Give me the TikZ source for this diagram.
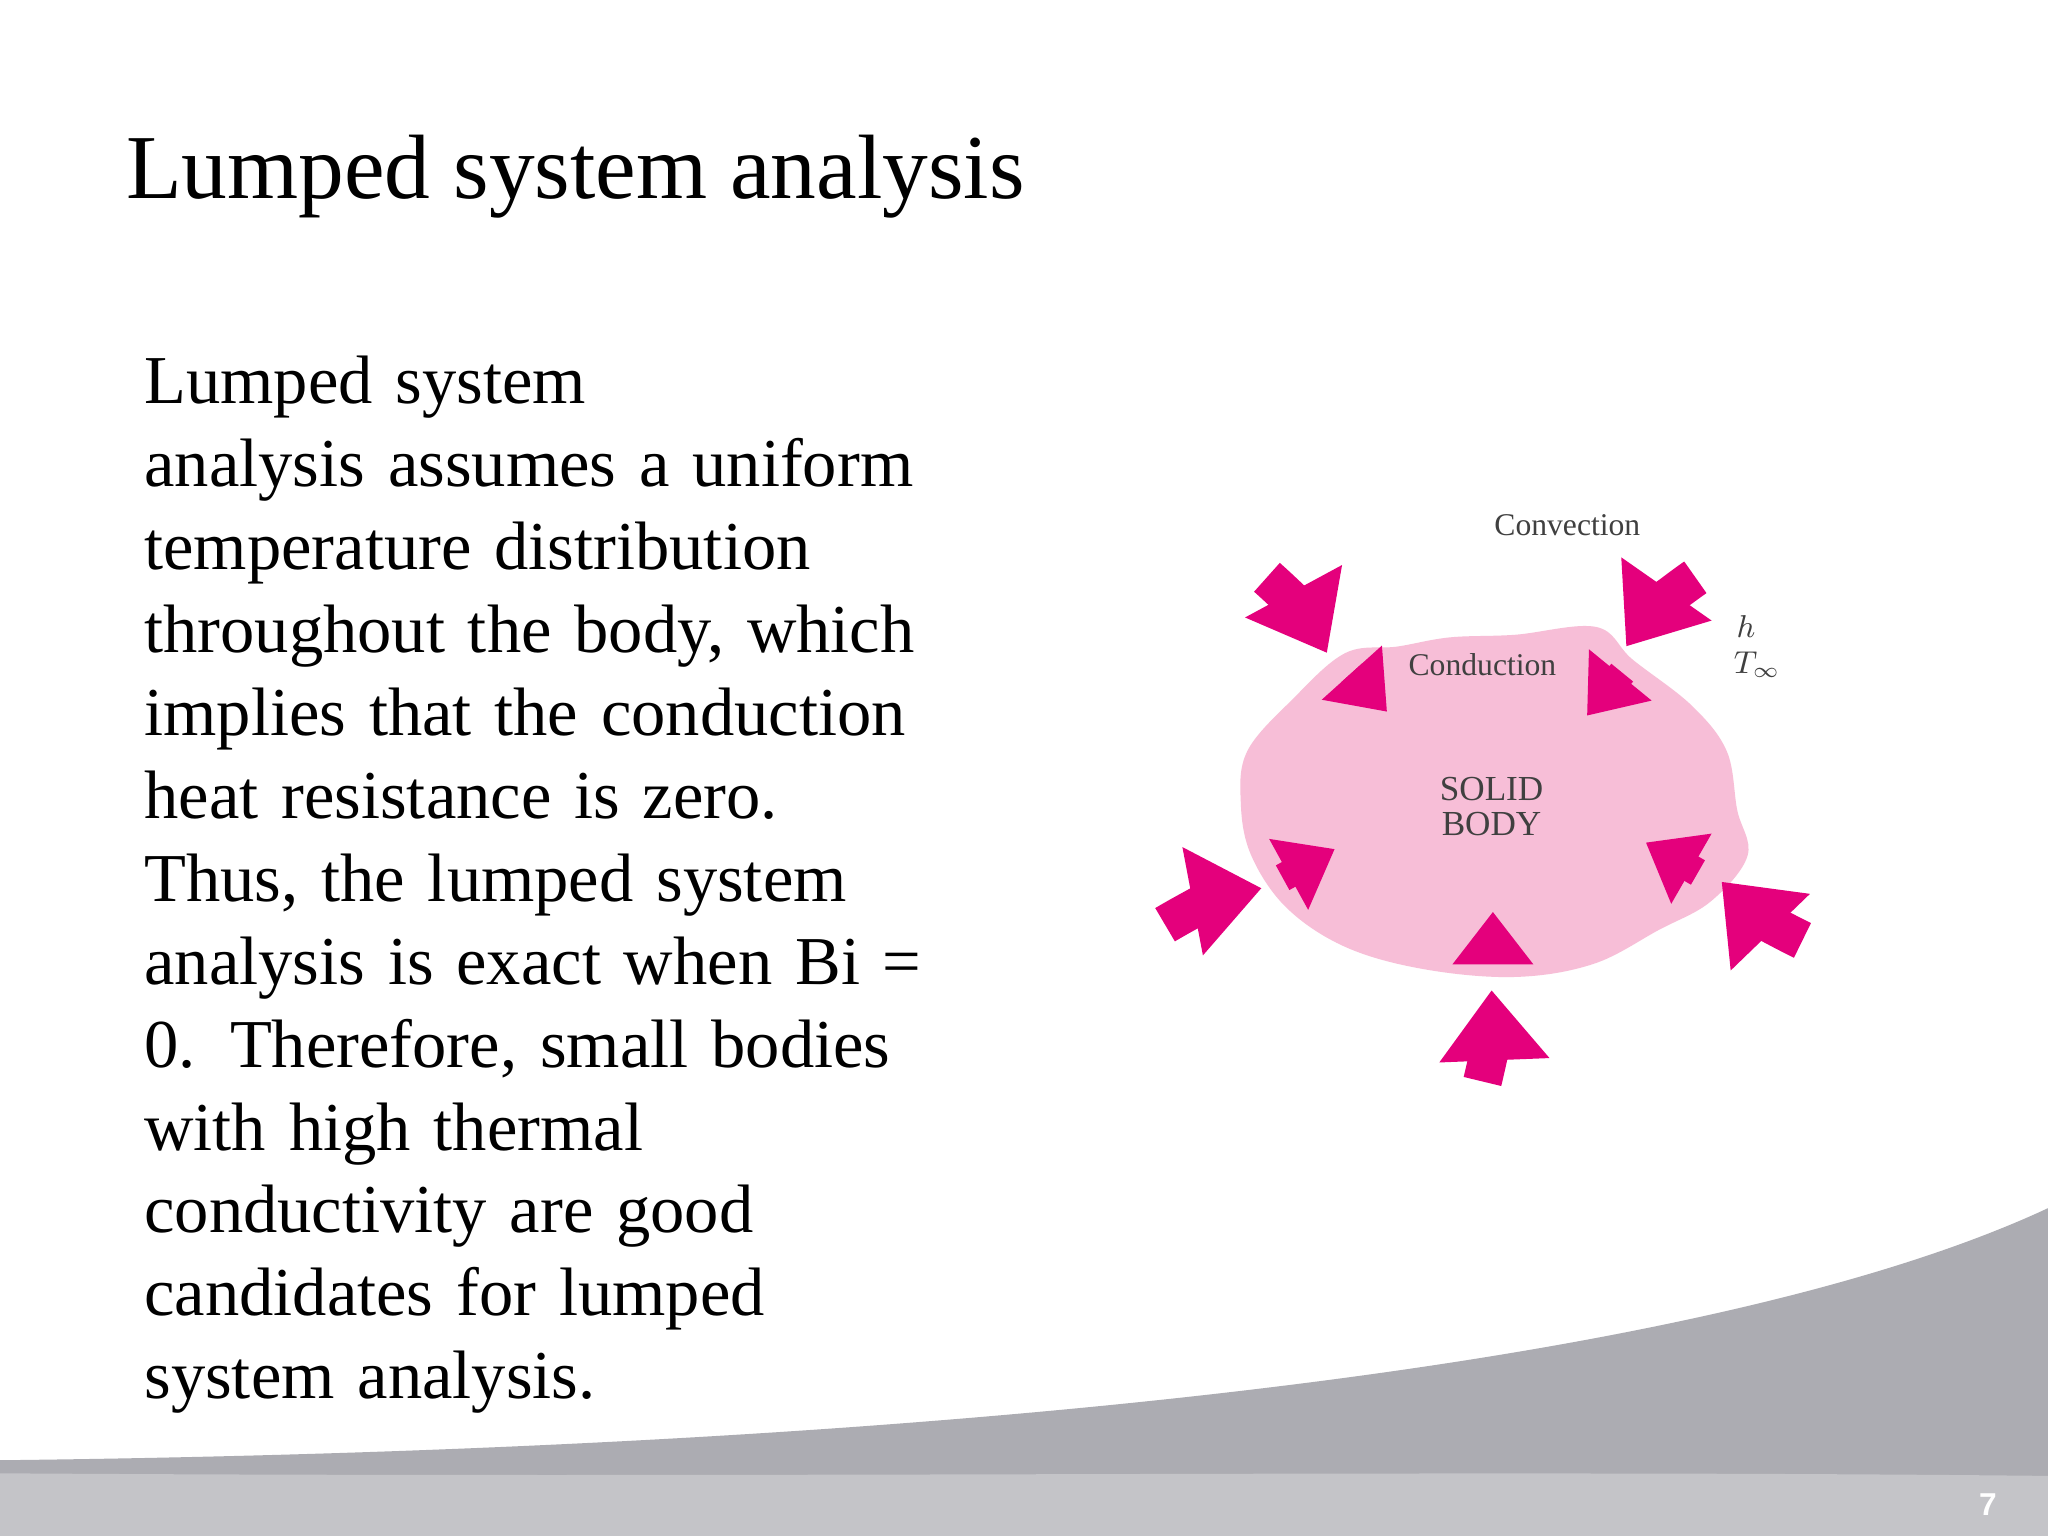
\documentclass[tikz,border=0pt]{standalone}
\usepackage{fontspec}
\setmainfont{Liberation Serif}
\newfontfamily\arialf{Liberation Sans}
\usetikzlibrary{arrows.meta}
\definecolor{mag}{RGB}{228,0,124}
\definecolor{blob}{RGB}{247,190,215}
\definecolor{swoosh}{RGB}{172,172,178}
\definecolor{band}{RGB}{196,196,200}
\tikzset{heat/.style={mag,line width=11,-{Triangle[width=30,length=20]}},
  small/.style={font=\fontsize{9}{11}\selectfont,text=black!75}}
\begin{document}
\begin{tikzpicture}[x=0.013061cm,y=-0.013061cm]
\useasboundingbox (0,0) rectangle (1568,1176);
\fill[white] (0,0) rectangle (1568,1176);
% swoosh
\fill[swoosh] (0,1118) .. controls (700,1110) and (1300,1050) .. (1568,925) -- (1568,1176) -- (0,1176) -- cycle;
\fill[band] (0,1128) .. controls (600,1132) and (1100,1125) .. (1568,1130) -- (1568,1176) -- (0,1176) -- cycle;
\node[text=white,font=\arialf\bfseries\fontsize{9}{10}\selectfont] (pg) at (1522,1152) {7};
% title
\node[anchor=base west,font=\fontsize{26}{30}\selectfont,inner sep=0] (title) at (96,152) {Lumped system analysis};
\node[anchor=north west,align=left,inner sep=0,font=\fontsize{19.5}{23.6}\selectfont,text width=12cm] (body) at (110,272) {Lumped system\\
analysis assumes a uniform\\
temperature distribution\\
throughout the body, which\\
implies that the conduction\\
heat resistance is zero.\\
Thus, the lumped system\\
analysis is exact when Bi =\\
0. Therefore, small bodies\\
with high thermal\\
conductivity are good\\
candidates for lumped\\
system analysis.};
% blob
\fill[blob] plot[smooth cycle,tension=0.6] coordinates {(955,575) (990,535) (1030,500) (1070,495) (1110,488) (1160,486) (1222,480) (1250,505) (1295,540) (1322,575) (1330,620) (1338,655) (1310,690) (1270,712) (1220,738) (1160,748) (1090,742) (1030,725) (985,695) (958,655) (950,615)};
\node[small,font=\fontsize{10}{12}\selectfont] (solid) at (1142,620) {\begin{tabular}{@{}c@{}}SOLID\\[-2pt]BODY\end{tabular}};
\node[small] (cond) at (1135,509) {Conduction};
\node[small] (conv) at (1200,402) {Convection};
\node[small,anchor=west] (h) at (1320,480) {$h$};
\node[small,anchor=west] (tinf) at (1318,509) {$T_\infty$};
% outer arrows
\coordinate (a1s) at (970,442); \coordinate (a1e) at (1016,500);
\draw[heat] (a1s) to[bend left=10] (a1e);
\coordinate (a2s) at (1298,442); \coordinate (a2e) at (1245,495);
\draw[heat] (a2s) to[bend right=10] (a2e);
\coordinate (a3s) at (892,708); \coordinate (a3e) at (966,680);
\draw[heat] (a3s) to[bend left=10] (a3e);
\coordinate (a4s) at (1380,720); \coordinate (a4e) at (1318,675);
\draw[heat] (a4s) to[bend left=10] (a4e);
\coordinate (a5s) at (1135,828); \coordinate (a5e) at (1142,758);
\draw[heat] (a5s) to[bend right=8] (a5e);
% inner arrows
\tikzset{heat2/.style={mag,line width=8,-{Triangle[width=22,length=15]}}}
\coordinate (b1s) at (1035,515); \coordinate (b1e) at (1062,545);
\draw[heat2] (b1s) -- (b1e);
\coordinate (b2s) at (1242,515); \coordinate (b2e) at (1215,548);
\draw[heat2] (b2s) -- (b2e);
\coordinate (b3s) at (982,672); \coordinate (b3e) at (1022,650);
\draw[heat2] (b3s) -- (b3e);
\coordinate (b4s) at (1300,668); \coordinate (b4e) at (1260,645);
\draw[heat2] (b4s) -- (b4e);
\coordinate (b5s) at (1143,735); \coordinate (b5e) at (1143,698);
\draw[heat2] (b5s) -- (b5e);
\end{tikzpicture}
\end{document}
